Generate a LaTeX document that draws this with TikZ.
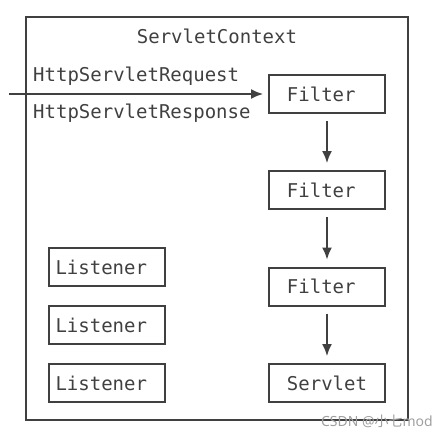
\documentclass[tikz,border=0pt]{standalone}
\usepackage{fontspec}
\setmonofont{DejaVu Sans Mono}
\newfontfamily\cjkfont{Noto Sans CJK SC}
\usetikzlibrary{arrows.meta}

\definecolor{linegray}{HTML}{404040}
\tikzset{
    box/.style={draw=linegray, line width=2pt, minimum width=116pt, minimum height=38pt,
        inner sep=0pt, font=\ttfamily\fontsize{19}{21}\selectfont, text=linegray},
    label/.style={font=\ttfamily\fontsize{19}{21}\selectfont, text=linegray, inner sep=0pt},
    flow/.style={draw=linegray, line width=1.6pt, -{Latex[length=12pt,width=10pt]}}
}

\begin{document}
\begin{tikzpicture}[x=1pt,y=-1pt]
\useasboundingbox (0,0) rectangle (448,437);

% ServletContext frame
\draw[linegray, line width=2pt] (26,17) rectangle (408,420);
\node[label] (ctx) at (217,36) {ServletContext};

% Request / response labels
\node[label, anchor=west] (req) at (33,76) {HttpServletRequest};
\node[label, anchor=west] (resp) at (33,113) {HttpServletResponse};

% Filter chain
\node[box] (filterA) at (327,94) {Filter\phantom{x}};
\node[box] (filterB) at (327,190) {Filter\phantom{x}};
\node[box] (filterC) at (327,286.5) {Filter\phantom{x}};
\node[box] (servlet) at (327,383) {Servlet};

% Listeners
\node[box] (listenA) at (107,267) {Listener\phantom{x}};
\node[box] (listenB) at (107,325) {Listener\phantom{x}};
\node[box] (listenC) at (107,383) {Listener\phantom{x}};

% Connectors
\coordinate (entry) at (9,94);
\draw[flow, shorten >=5pt] (entry) -- (filterA.west);
\draw[flow, shorten <=7pt, shorten >=7pt] (filterA.south) -- (filterB.north);
\draw[flow, shorten <=7pt, shorten >=7pt] (filterB.south) -- (filterC.north);
\draw[flow, shorten <=7pt, shorten >=7pt] (filterC.south) -- (servlet.north);

% Watermark
\node[anchor=east, text=gray!75, inner sep=0pt, font=\fontsize{14}{16}\selectfont] (mark) at (433,421)
    {\fontspec{Noto Sans}CSDN @\cjkfont 小七\fontspec{Noto Sans}mod};
\end{tikzpicture}
\end{document}
